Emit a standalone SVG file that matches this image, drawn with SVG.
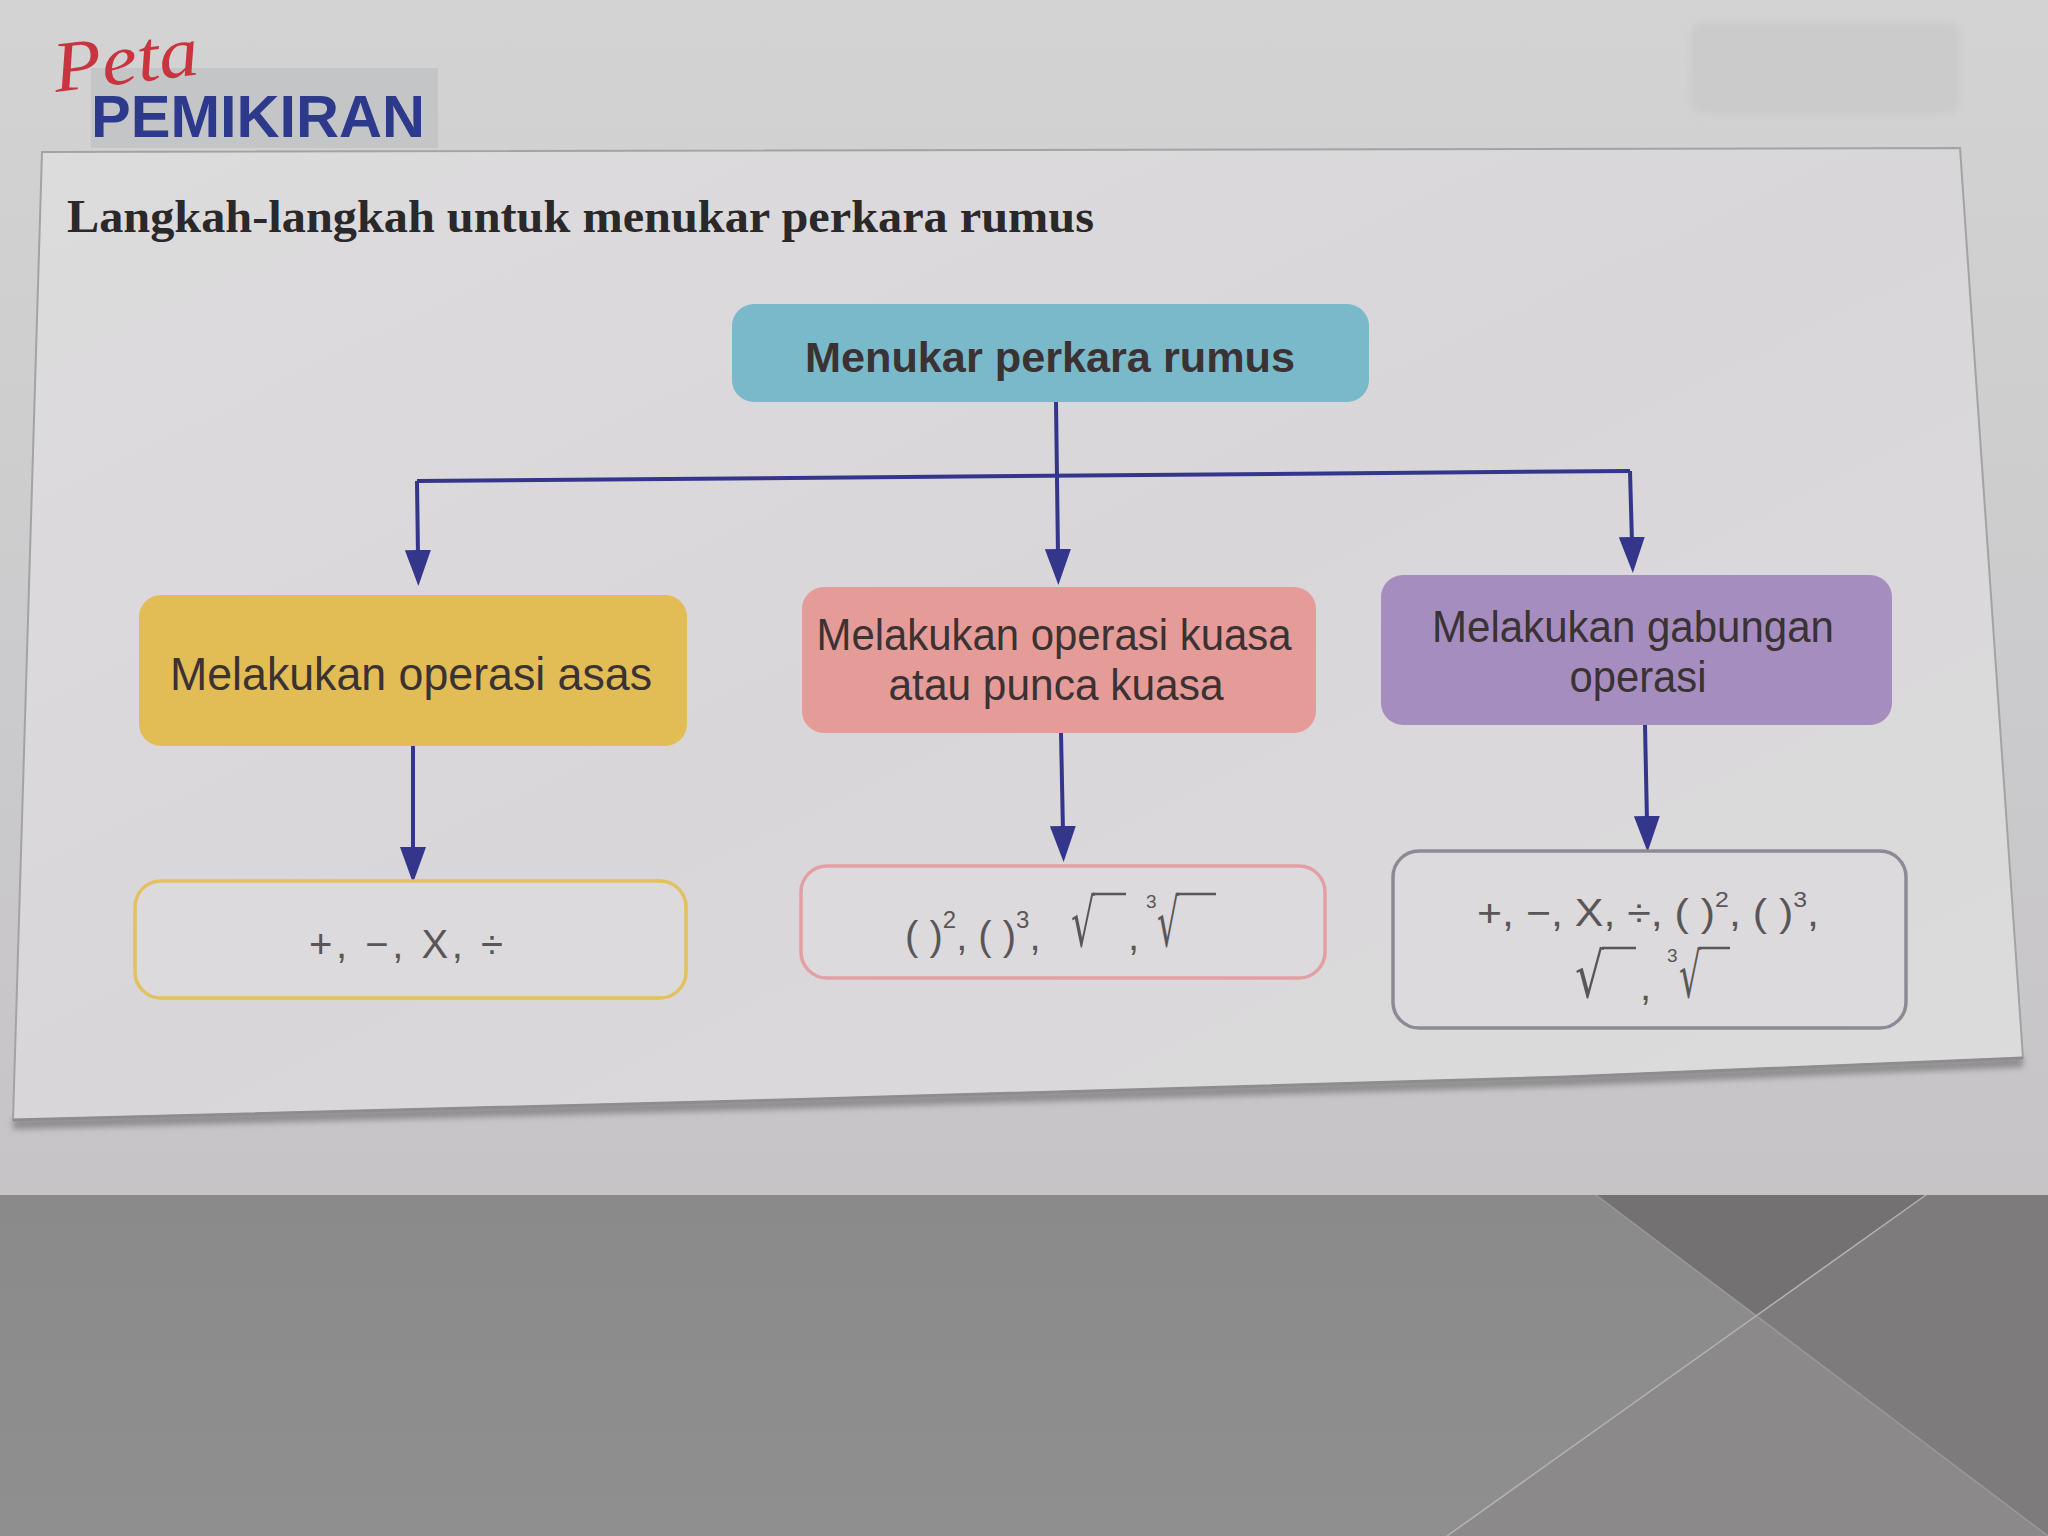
<svg xmlns="http://www.w3.org/2000/svg" width="2048" height="1536" viewBox="0 0 2048 1536">
  <defs>
    <linearGradient id="slideGrad" x1="0" y1="0" x2="0" y2="1">
      <stop offset="0" stop-color="#7a7879"/>
      <stop offset="1" stop-color="#908f90"/>
    </linearGradient>
    <linearGradient id="photoGrad" x1="0" y1="0" x2="0" y2="1">
      <stop offset="0" stop-color="#d3d3d4"/>
      <stop offset="1" stop-color="#c6c4c6"/>
    </linearGradient>
    <linearGradient id="panelGrad" x1="0" y1="0" x2="1" y2="1">
      <stop offset="0" stop-color="#dddcdd"/>
      <stop offset="0.5" stop-color="#d9d6d9"/>
      <stop offset="1" stop-color="#dcdcdc"/>
    </linearGradient>
    <filter id="soft" x="-5%" y="-50%" width="110%" height="200%">
      <feGaussianBlur stdDeviation="3"/>
    </filter>
    <marker id="arr" viewBox="0 0 36 26" refX="6" refY="13" markerWidth="36" markerHeight="26" markerUnits="userSpaceOnUse" orient="auto">
      <path d="M0,0 L36,13 L0,26 Z" fill="#33368a"/>
    </marker>
    <style>
      .conn { fill: none; stroke: #33368a; stroke-width: 4; }
      .lbl { font-family: "Liberation Sans", Arial, sans-serif; fill: #3a3233; text-anchor: middle; }
      .math { font-family: "Liberation Sans", "DejaVu Sans", sans-serif; fill: #5a5658; }
      .rad { font-family: "DejaVu Sans", sans-serif; fill: #5a5658; }
      .idx { font-family: "Liberation Sans", sans-serif; fill: #5a5658; font-size: 19px; }
      .vinc { stroke: #5a5658; stroke-width: 2.5; }
      .box { stroke-width: 3.5; fill: #dcdadc; }
    </style>
  </defs>

  <!-- slide background -->
  <rect x="0" y="0" width="2048" height="1536" fill="url(#slideGrad)"/>
  <polygon points="1596,1195 1926,1195 1756,1315" fill="#737172"/>
  <polygon points="1926,1195 2048,1195 2048,1536 1756,1315" fill="#7d7b7c"/>
  <polygon points="1756,1315 2048,1536 1447,1536" fill="#8b898a"/>
  <line x1="1596" y1="1195" x2="2048" y2="1536" stroke="#9a9899" stroke-width="1.5"/>
  <line x1="1926" y1="1195" x2="1447" y2="1536" stroke="#b4b3b4" stroke-width="1.5"/>

  <!-- photo -->
  <rect x="0" y="0" width="2048" height="1195" fill="url(#photoGrad)"/>
  <rect x="1690" y="22" width="270" height="92" rx="14" fill="#cbcbcc" filter="url(#soft)"/>
  <polyline points="13,1124 783,1104 1567,1081 2023,1062" fill="none" stroke="#8c8a8c" stroke-width="10" filter="url(#soft)"/>
  <polygon points="42,152 1960,148 2023,1058 1567,1077 783,1100 13,1120" fill="url(#panelGrad)" stroke="#a3a2a4" stroke-width="2"/>
  <polyline points="13,1120 783,1100 1567,1077 2023,1058" fill="none" stroke="#8e8c8e" stroke-width="3"/>

  <!-- header -->
  <g id="header">
    <rect x="91" y="68" width="347" height="80" fill="#c4c5c7"/>
    <text x="56" y="92" font-family="Liberation Serif, serif" font-style="italic" font-size="72" fill="#c9353f" textLength="146" lengthAdjust="spacingAndGlyphs" transform="rotate(-7 56 92)">Peta</text>
    <text x="91" y="137" font-family="Liberation Sans, Arial, sans-serif" font-weight="bold" font-size="60" fill="#2d3a8c" textLength="334" lengthAdjust="spacingAndGlyphs">PEMIKIRAN</text>
  </g>

  <g id="title">
    <text x="67" y="232" font-family="Liberation Serif, serif" font-weight="bold" font-size="47" fill="#2a2829" textLength="1027" lengthAdjust="spacingAndGlyphs">Langkah-langkah untuk menukar perkara rumus</text>
  </g>

  <!-- connectors -->
  <g id="connectors">
    <path class="conn" d="M1056,402 L1058,555" marker-end="url(#arr)"/>
    <path class="conn" d="M417,481 L1630,471"/>
    <path class="conn" d="M417,481 L418,556" marker-end="url(#arr)"/>
    <path class="conn" d="M1630,471 L1632,543" marker-end="url(#arr)"/>
    <path class="conn" d="M413,746 L413,853" marker-end="url(#arr)"/>
    <path class="conn" d="M1061,733 L1063,832" marker-end="url(#arr)"/>
    <path class="conn" d="M1645,725 L1647,822" marker-end="url(#arr)"/>
  </g>

  <!-- nodes -->
  <g id="node-root">
    <rect x="732" y="304" width="637" height="98" rx="22" fill="#79b9ca"/>
    <text class="lbl" x="1050" y="372" font-weight="bold" font-size="42" fill="#1f2526" textLength="490" lengthAdjust="spacingAndGlyphs">Menukar perkara rumus</text>
  </g>

  <g id="node-asas">
    <rect x="139" y="595" width="548" height="151" rx="22" fill="#e2bc55"/>
    <text class="lbl" x="411" y="690" font-size="46" textLength="482" lengthAdjust="spacingAndGlyphs">Melakukan operasi asas</text>
  </g>

  <g id="node-kuasa">
    <rect x="802" y="587" width="514" height="146" rx="22" fill="#e59b98"/>
    <text class="lbl" x="1054" y="650" font-size="44" textLength="475" lengthAdjust="spacingAndGlyphs">Melakukan operasi kuasa</text>
    <text class="lbl" x="1056" y="700" font-size="44" textLength="335" lengthAdjust="spacingAndGlyphs">atau punca kuasa</text>
  </g>

  <g id="node-gabungan">
    <rect x="1381" y="575" width="511" height="150" rx="22" fill="#a68dbf"/>
    <text class="lbl" x="1633" y="642" font-size="44" textLength="402" lengthAdjust="spacingAndGlyphs">Melakukan gabungan</text>
    <text class="lbl" x="1638" y="692" font-size="44" textLength="137" lengthAdjust="spacingAndGlyphs">operasi</text>
  </g>

  <g id="op-asas">
    <rect class="box" x="135" y="881" width="551" height="117" rx="26" stroke="#e3c060"/>
    <text class="math" x="309" y="958" font-size="40" textLength="194">+, −, X, ÷</text>
  </g>

  <g id="op-kuasa">
    <rect class="box" x="801" y="866" width="524" height="112" rx="26" stroke="#e2a0a4"/>
    <text class="math" x="905" y="950" font-size="40">( )<tspan dy="-22" font-size="24">2</tspan><tspan dy="22">, ( )</tspan><tspan dy="-22" font-size="24">3</tspan><tspan dy="22">,</tspan></text>
    <text class="rad" x="1071" y="946" font-size="66" textLength="24" lengthAdjust="spacingAndGlyphs">√</text>
    <line class="vinc" x1="1093" y1="894" x2="1126" y2="894"/>
    <text class="math" x="1128" y="950" font-size="40">,</text>
    <text class="idx" x="1146" y="908">3</text>
    <text class="rad" x="1157" y="946" font-size="66" textLength="22" lengthAdjust="spacingAndGlyphs">√</text>
    <line class="vinc" x1="1177" y1="894" x2="1216" y2="894"/>
  </g>

  <g id="op-gabungan">
    <rect class="box" x="1393" y="851" width="513" height="177" rx="26" stroke="#8e8a95"/>
    <text class="math" x="1477" y="926" font-size="38" textLength="342" lengthAdjust="spacingAndGlyphs">+, −, X, ÷, ( )<tspan dy="-19" font-size="22">2</tspan><tspan dy="19">, ( )</tspan><tspan dy="-19" font-size="22">3</tspan><tspan dy="19">,</tspan></text>
    <text class="rad" x="1575" y="997" font-size="62" textLength="29" lengthAdjust="spacingAndGlyphs">√</text>
    <line class="vinc" x1="1602" y1="948" x2="1636" y2="948"/>
    <text class="math" x="1640" y="1000" font-size="40">,</text>
    <text class="idx" x="1667" y="962">3</text>
    <text class="rad" x="1679" y="997" font-size="62" textLength="22" lengthAdjust="spacingAndGlyphs">√</text>
    <line class="vinc" x1="1699" y1="948" x2="1730" y2="948"/>
  </g>
</svg>
